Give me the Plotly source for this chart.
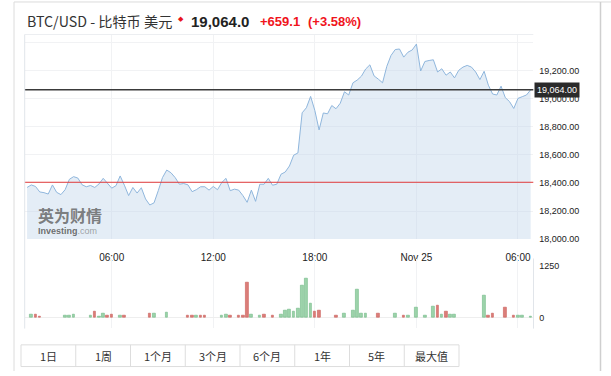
import plotly.graph_objects as go
import pandas as pd

W, H = 611, 376

# ---------------- data ----------------
start_time = "2020-11-24 01:00"
interval = "15min"
prices = [
    18368, 18386, 18375, 18336, 18331, 18321, 18386, 18333, 18317, 18352,
    18426, 18445, 18435, 18387, 18373, 18382, 18368, 18393, 18433, 18398,
    18363, 18380, 18450, 18384, 18310, 18368, 18328, 18366, 18286, 18243,
    18258, 18345, 18438, 18492, 18473, 18438, 18391, 18396, 18387, 18338,
    18352, 18373, 18373, 18349, 18375, 18352, 18403, 18433, 18345, 18356,
    18349, 18310, 18262, 18349, 18269, 18391, 18391, 18433, 18384, 18391,
    18462, 18478, 18521, 18598, 18614, 18900, 18936, 19017, 18917, 18778,
    18899, 18893, 18952, 18929, 18968, 19050, 19027, 19114, 19133, 19161,
    19212, 19242, 19163, 19140, 19114, 19231, 19309, 19351, 19355, 19297,
    19332, 19348, 19390, 19198, 19266, 19273, 19278, 19191, 19214, 19168,
    19191, 19149, 19203, 19226, 19238, 19226, 19191, 19137, 19196, 19097,
    19034, 19027, 19090, 19008, 18980, 18931, 19003, 19015, 19027, 19064,
]
volumes = [
    0, 65, 73, 32, 0, 0, 0, 0, 0, 56,
    56, 81, 0, 0, 0, 40, 137, 32, 89, 56,
    65, 0, 40, 56, 0, 0, 0, 0, 0, 89,
    89, 0, 0, 113, 0, 0, 0, 0, 40, 40,
    40, 40, 40, 0, 0, 0, 40, 65, 40, 0,
    56, 56, 839, 81, 0, 40, 73, 0, 56, 0,
    65, 161, 194, 137, 218, 766, 936, 331, 137, 161,
    0, 0, 0, 40, 0, 89, 0, 161, 677, 89,
    89, 0, 0, 89, 0, 0, 0, 89, 0, 40,
    40, 0, 242, 0, 40, 0, 258, 290, 65, 137,
    65, 81, 0, 0, 0, 0, 0, 0, 532, 56,
    89, 0, 0, 250, 0, 40, 40, 40, 0, 24,
]
vol_up = [
    1, 1, 0, 0, 1, 1, 1, 1, 1, 1,
    1, 1, 1, 1, 1, 1, 0, 1, 1, 0,
    0, 1, 1, 0, 1, 1, 1, 1, 1, 0,
    1, 1, 1, 1, 1, 1, 1, 1, 0, 0,
    1, 0, 0, 1, 1, 1, 1, 1, 0, 1,
    0, 0, 0, 1, 1, 1, 0, 1, 0, 1,
    1, 1, 1, 1, 1, 1, 1, 1, 0, 0,
    1, 1, 1, 0, 1, 1, 1, 1, 1, 1,
    1, 1, 1, 0, 1, 1, 1, 1, 1, 0,
    1, 1, 1, 1, 1, 1, 1, 0, 1, 0,
    1, 1, 1, 1, 1, 1, 1, 1, 1, 0,
    0, 1, 1, 0, 1, 0, 1, 1, 1, 1,
]
last_price = 19064.0
prev_close = 18404.9
change = 659.1
change_pct = 3.58
price_ticks = [18000, 18200, 18400, 18600, 18800, 19000, 19200, 19400]
price_tick_text = ["18,000.00", "18,200.00", "18,400.00", "18,600.00",
                   "18,800.00", "19,000.00", "19,200.00", ""]
vol_ticks = [0, 1250]
time_ticks = ["2020-11-24 06:00", "2020-11-24 12:00", "2020-11-24 18:00",
              "2020-11-25 00:00", "2020-11-25 06:00"]
time_tick_text = ["06:00", "12:00", "18:00", "Nov 25", "06:00"]
x_range = ["2020-11-24 00:51:40", "2020-11-25 06:54:15"]
price_range = [18000, 19458]
vol_range = [-244, 1415]
buttons = ["1日", "1周", "1个月", "3个月", "6个月", "1年", "5年", "最大值"]

# ---------------- helpers ----------------
def px(x):
    return x / W

def py(y):
    return 1 - y / H

times = pd.date_range(start_time, periods=len(prices), freq=interval)
up_x = [t for t, v, u in zip(times, volumes, vol_up) if v > 0 and u]
up_y = [v for v, u in zip(volumes, vol_up) if v > 0 and u]
dn_x = [t for t, v, u in zip(times, volumes, vol_up) if v > 0 and not u]
dn_y = [v for v, u in zip(volumes, vol_up) if v > 0 and not u]

FONT = "Liberation Sans, Arial, Noto Sans CJK SC, sans-serif"
CJK = "Noto Sans CJK SC, Liberation Sans, sans-serif"
GRID = "#f1f2f4"

fig = go.Figure()
fig.add_trace(go.Scatter(
    x=times, y=prices, mode="lines",
    line=dict(color="#8fb6dc", width=1),
    fill="tozeroy", fillcolor="rgba(190,211,233,0.42)",
    xaxis="x", yaxis="y", hoverinfo="skip"))
fig.add_trace(go.Bar(
    x=up_x, y=up_y, xaxis="x2", yaxis="y2", width=560000,
    marker=dict(color="#9dd3ab", line=dict(color="#6fb884", width=0.6)),
    hoverinfo="skip"))
fig.add_trace(go.Bar(
    x=dn_x, y=dn_y, xaxis="x2", yaxis="y2", width=560000,
    marker=dict(color="#db7e7a", line=dict(color="#c95c58", width=0.6)),
    hoverinfo="skip"))

x_dom = [px(24.7), px(533.3)]
fig.update_layout(
    width=W, height=H, margin=dict(l=0, r=0, t=0, b=0), autosize=False,
    paper_bgcolor="white", plot_bgcolor="white", showlegend=False,
    bargap=0,
    font=dict(family=FONT, color="#222"),
    xaxis=dict(domain=x_dom, range=x_range, type="date", anchor="y",
               tickvals=time_ticks, ticktext=time_tick_text,
               showgrid=True, gridcolor=GRID, gridwidth=1, zeroline=False,
               showline=False, ticks="", tickfont=dict(size=10, color="#222"),
               ticklabelstandoff=11),
    yaxis=dict(domain=[py(242.3), py(35)], range=price_range, side="right",
               anchor="x", tickvals=price_ticks, ticktext=price_tick_text,
               showgrid=True, gridcolor=GRID, zeroline=False, showline=False,
               ticks="", tickfont=dict(size=9, color="#222"),
               ticklabelstandoff=5),
    xaxis2=dict(domain=x_dom, range=x_range, type="date", anchor="y2",
                tickvals=time_ticks, showticklabels=False, showgrid=True,
                gridcolor=GRID, zeroline=False, showline=False, ticks=""),
    yaxis2=dict(domain=[py(332), py(262)], range=vol_range, side="right",
                anchor="x2", tickvals=vol_ticks,
                ticktext=[str(v) for v in vol_ticks], showgrid=False,
                zeroline=True, zerolinecolor="#eeeeee", zerolinewidth=1,
                showline=False, ticks="",
                tickfont=dict(size=9, color="#222"), ticklabelstandoff=5),
)

# reference lines
fig.add_shape(type="line", xref="x domain", yref="y", x0=0, x1=1,
              y0=prev_close, y1=prev_close, line=dict(color="#e23b3b", width=1))
fig.add_shape(type="line", xref="x domain", yref="y", x0=0, x1=1,
              y0=last_price, y1=last_price, line=dict(color="#3a3a3a", width=1.6))
fig.add_annotation(x=px(534), xref="paper", xanchor="left", yanchor="middle",
                   y=last_price, yref="y", text=f"{last_price:,.2f}",
                   showarrow=False, bgcolor="#2a2a2a", borderpad=2,
                   font=dict(size=9, color="white", family=FONT))

# frames
frame = "#dcdcdc"
fig.add_shape(type="line", xref="paper", yref="paper", x0=px(14), x1=1,
              y0=py(2), y1=py(2), line=dict(color=frame, width=1))
fig.add_shape(type="line", xref="paper", yref="paper", x0=px(14), x1=px(14),
              y0=py(2), y1=0, line=dict(color=frame, width=1))
fig.add_shape(type="line", xref="paper", yref="paper", x0=px(600.5), x1=px(600.5),
              y0=py(2), y1=0, line=dict(color="#cfcfcf", width=1.5))
fig.add_shape(type="line", xref="paper", yref="paper", x0=px(24.7), x1=px(533.3),
              y0=py(35), y1=py(35), line=dict(color="#eceef1", width=1))
fig.add_shape(type="line", xref="paper", yref="paper", x0=px(24.7), x1=px(24.7),
              y0=py(35), y1=py(333), line=dict(color="#e1e5ea", width=1))
fig.add_shape(type="line", xref="paper", yref="paper", x0=px(533.5), x1=px(533.5),
              y0=py(262), y1=py(333), line=dict(color="#e1e5ea", width=1))

# title
ty = py(21.5)
fig.add_annotation(x=px(25), y=ty, xref="paper", yref="paper", xanchor="left",
                   yanchor="middle", showarrow=False, text="BTC/USD - 比特币 美元",
                   font=dict(size=14.2, color="#333", family=CJK))
fig.add_annotation(x=px(181), y=py(19.5), xref="paper", yref="paper", xanchor="center",
                   yanchor="middle", showarrow=False, text="◆",
                   font=dict(size=7, color="#e8141c", family="DejaVu Sans"))
fig.add_annotation(x=px(188.5), y=ty, xref="paper", yref="paper", xanchor="left",
                   yanchor="middle", showarrow=False, text=f"<b>{last_price:,.1f}</b>",
                   font=dict(size=15, color="#222", family=FONT))
fig.add_annotation(x=px(258), y=ty, xref="paper", yref="paper", xanchor="left",
                   yanchor="middle", showarrow=False, text=f"<b>+{change:,.1f}</b>",
                   font=dict(size=13, color="#f0141c", family=FONT))
fig.add_annotation(x=px(306), y=ty, xref="paper", yref="paper", xanchor="left",
                   yanchor="middle", showarrow=False, text=f"<b>(+{change_pct:.2f}%)</b>",
                   font=dict(size=13, color="#f0141c", family=FONT))

# watermark
fig.add_annotation(x=px(36), y=py(218), xref="paper", yref="paper", xanchor="left",
                   yanchor="middle", showarrow=False, text="<b>英为财情</b>",
                   font=dict(size=16, color="rgba(95,95,95,0.8)", family=CJK))
fig.add_annotation(x=px(36), y=py(234.5), xref="paper", yref="paper", xanchor="left",
                   yanchor="middle", showarrow=False,
                   text="<b>Investing</b><span style='color:rgba(120,120,120,0.8)'>.com</span>",
                   font=dict(size=9, color="rgba(85,85,85,0.85)", family=FONT))

# period buttons
bx0, bx1, by0, by1 = 21, 459, 349.5, 371.5
bw = (bx1 - bx0) / len(buttons)
fig.add_shape(type="rect", xref="paper", yref="paper", x0=px(bx0), x1=px(bx1),
              y0=py(by1), y1=py(by0), line=dict(color="#dddddd", width=1))
for k, lab in enumerate(buttons):
    if k > 0:
        xx = px(bx0 + k * bw)
        fig.add_shape(type="line", xref="paper", yref="paper", x0=xx, x1=xx,
                      y0=py(by1), y1=py(by0), line=dict(color="#dddddd", width=1))
    fig.add_annotation(x=px(bx0 + (k + 0.5) * bw), y=py((by0 + by1) / 2),
                       xref="paper", yref="paper", xanchor="center",
                       yanchor="middle", showarrow=False, text=lab,
                       font=dict(size=11, color="#333", family=CJK))

fig.write_html(
    "out.html",
    config={"displayModeBar": False},
    post_script="document.body.style.margin='0';document.body.style.overflow='hidden';",
)
